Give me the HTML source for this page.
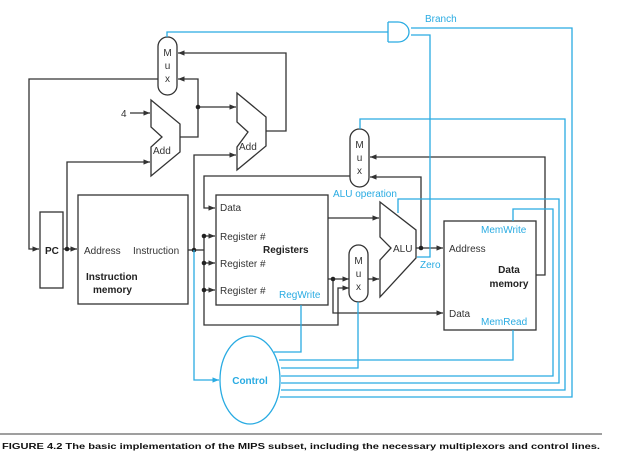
<!DOCTYPE html>
<html><head><meta charset="utf-8"><style>
html,body{margin:0;padding:0;background:#fff;width:626px;height:453px;overflow:hidden}
svg{display:block}
text{font-family:"Liberation Sans",sans-serif}
</style></head><body>
<svg width="626" height="453" viewBox="0 0 626 453" xmlns="http://www.w3.org/2000/svg">
<defs>
<marker id="a" viewBox="0 0 10 10" refX="10" refY="5" markerWidth="7" markerHeight="5" orient="auto"><path d="M0,1 L10,5 L0,9 z" fill="#333"/></marker>
<marker id="b" viewBox="0 0 10 10" refX="10" refY="5" markerWidth="7" markerHeight="5" orient="auto"><path d="M0,1 L10,5 L0,9 z" fill="#29abe2"/></marker>
</defs>
<g fill="none" stroke="#333" stroke-width="1.3">
<!-- top mux -->
<rect x="158" y="37" width="19" height="58" rx="9.5" fill="#fff"/>
<polyline points="266,131 286,131 286,53 178,53" marker-end="url(#a)"/>
<polyline points="180,137 198,137 198,79 178,79" marker-end="url(#a)"/>
<polyline points="198,107 236,107" marker-end="url(#a)"/>
<polyline points="158,79 29,79 29,249 39,249" marker-end="url(#a)"/>
<!-- adders -->
<polygon points="151,100 180,124 180,152 151,176 151,147 162,137 151,127" fill="#fff"/>
<polygon points="237,93 266,117 266,146 237,170 237,147 248,132 237,122" fill="#fff"/>
<line x1="130" y1="113" x2="150" y2="113" marker-end="url(#a)"/>
<polyline points="67,249 67,162 150,162" marker-end="url(#a)"/>
<polyline points="194,250 194,155 236,155" marker-end="url(#a)"/>
<!-- PC and instruction memory -->
<rect x="40" y="212" width="23" height="76"/>
<line x1="63" y1="249" x2="77" y2="249" marker-end="url(#a)"/>
<rect x="78" y="195" width="110" height="109"/>
<line x1="188" y1="250" x2="204" y2="250"/>
<!-- registers -->
<rect x="216" y="195" width="112" height="110"/>
<polyline points="204,236 204,325 338,325 338,288 349,288" marker-end="url(#a)"/>
<line x1="204" y1="236" x2="215" y2="236" marker-end="url(#a)"/>
<line x1="204" y1="263" x2="215" y2="263" marker-end="url(#a)"/>
<line x1="204" y1="290" x2="215" y2="290" marker-end="url(#a)"/>
<polyline points="350,176 204,176 204,208 215,208" marker-end="url(#a)"/>
<polyline points="328,218 379,218" marker-end="url(#a)"/>
<polyline points="328,279 349,279" marker-end="url(#a)"/>
<polyline points="333,279 333,313 443,313" marker-end="url(#a)"/>
<!-- lower mux -->
<rect x="349" y="245" width="19" height="57" rx="9.5" fill="#fff"/>
<line x1="368" y1="279" x2="379" y2="279" marker-end="url(#a)"/>
<!-- ALU -->
<polygon points="380,202 416,230 416,258 380,297 380,260 391,248 380,237" fill="#fff"/>
<line x1="416" y1="248" x2="443" y2="248" marker-end="url(#a)"/>
<polyline points="421,248 421,177 370,177" marker-end="url(#a)"/>
<!-- upper right mux -->
<rect x="350" y="129" width="19" height="58" rx="9.5" fill="#fff"/>
<!-- data memory -->
<rect x="444" y="221" width="92" height="109"/>
<polyline points="536,275 545,275 545,157 370,157" marker-end="url(#a)"/>
</g>
<g fill="#222">
<circle cx="198" cy="107" r="2.3"/><circle cx="67" cy="249" r="2.3"/><circle cx="194" cy="250" r="2.3"/>
<circle cx="204" cy="236" r="2.3"/><circle cx="204" cy="263" r="2.3"/><circle cx="204" cy="290" r="2.3"/>
<circle cx="333" cy="279" r="2.3"/><circle cx="421" cy="248" r="2.3"/>
</g>
<!-- blue control -->
<g fill="none" stroke="#29abe2" stroke-width="1.3">
<path d="M388,22 H398 A11,10 0 0 1 398,42 H388" />
<line x1="388" y1="22" x2="388" y2="42"/>
<polyline points="167,37 167,32 388,32"/>
<polyline points="411,28 572,28 572,397 280,397"/>
<polyline points="411,35 430,35 430,257 417,257"/>
<polyline points="360,129 360,119 565,119 565,390 281,390"/>
<polyline points="398,213 398,199 559,199 559,383 281,383"/>
<polyline points="513,221 513,209 553,209 553,376 281,376"/>
<polyline points="513,330 513,360 279,360"/>
<polyline points="358,302 358,368 281,368"/>
<polyline points="301,305 301,352 274,352"/>
<polyline points="194,250 194,380 219,380" marker-end="url(#b)"/>
<ellipse cx="250" cy="380" rx="30" ry="44" fill="#fff"/>
</g>
<g font-size="10" fill="#333">
<text x="167.5" y="56" text-anchor="middle">M</text><text x="167.5" y="69" text-anchor="middle">u</text><text x="167.5" y="82" text-anchor="middle">x</text>
<text x="359.5" y="148" text-anchor="middle">M</text><text x="359.5" y="161" text-anchor="middle">u</text><text x="359.5" y="174" text-anchor="middle">x</text>
<text x="358.5" y="264" text-anchor="middle">M</text><text x="358.5" y="277" text-anchor="middle">u</text><text x="358.5" y="290" text-anchor="middle">x</text>
<text x="121" y="117">4</text>
<text x="153" y="154">Add</text><text x="239" y="150">Add</text>
<text x="84" y="254">Address</text><text x="133" y="254">Instruction</text>
<text x="220" y="211">Data</text>
<text x="220" y="240">Register #</text><text x="220" y="267">Register #</text><text x="220" y="294">Register #</text>
<text x="393" y="252">ALU</text>
<text x="449" y="252">Address</text><text x="449" y="317">Data</text>
</g>
<g font-size="10" fill="#222" font-weight="bold">
<text x="45" y="254">PC</text>
<text x="86" y="280">Instruction</text><text x="93" y="293">memory</text>
<text x="263" y="253">Registers</text>
<text x="509" y="273" text-anchor="middle">Data</text><text x="509" y="287" text-anchor="middle">memory</text>
</g>
<g font-size="10" fill="#29abe2">
<text x="425" y="22">Branch</text>
<text x="333" y="197">ALU operation</text>
<text x="420" y="268">Zero</text>
<text x="481" y="233">MemWrite</text>
<text x="481" y="325">MemRead</text>
<text x="279" y="298">RegWrite</text>
<text x="250" y="384" text-anchor="middle" font-weight="bold">Control</text>
</g>
<line x1="0" y1="434" x2="602" y2="434" stroke="#666" stroke-width="1.2"/>
<text x="2" y="449" font-size="8.6" font-weight="bold" fill="#111" textLength="598" lengthAdjust="spacingAndGlyphs">FIGURE 4.2   The basic implementation of the MIPS subset, including the necessary multiplexors and control lines.</text>
</svg>
</body></html>
